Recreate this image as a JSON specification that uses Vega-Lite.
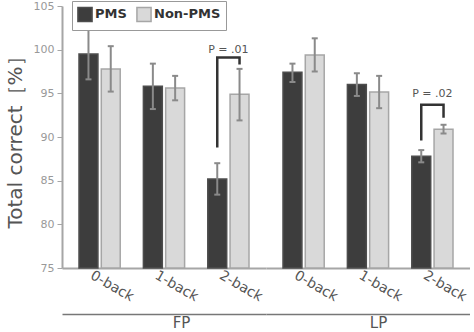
{
  "$schema": "https://vega.github.io/schema/vega-lite/v6.json",
  "padding": {"left": 5, "top": 0, "right": 0, "bottom": 0},
  "spacing": 0,
  "config": {"view": {"stroke": null}, "font": "DejaVu Sans"},
  "datasets": {
    "bars": [
      {"cond": "FP", "load": "0-back", "series": "PMS", "mean": 99.5, "lo": 96.6, "hi": 102.3},
      {"cond": "FP", "load": "0-back", "series": "Non-PMS", "mean": 97.8, "lo": 95.2, "hi": 100.4},
      {"cond": "FP", "load": "1-back", "series": "PMS", "mean": 95.8, "lo": 93.2, "hi": 98.4},
      {"cond": "FP", "load": "1-back", "series": "Non-PMS", "mean": 95.6, "lo": 94.2, "hi": 97.0},
      {"cond": "FP", "load": "2-back", "series": "PMS", "mean": 85.2, "lo": 83.4, "hi": 87.0},
      {"cond": "FP", "load": "2-back", "series": "Non-PMS", "mean": 94.9, "lo": 91.9, "hi": 97.8},
      {"cond": "LP", "load": "0-back", "series": "PMS", "mean": 97.4, "lo": 96.3, "hi": 98.4},
      {"cond": "LP", "load": "0-back", "series": "Non-PMS", "mean": 99.4, "lo": 97.5, "hi": 101.3},
      {"cond": "LP", "load": "1-back", "series": "PMS", "mean": 96.0, "lo": 94.7, "hi": 97.3},
      {"cond": "LP", "load": "1-back", "series": "Non-PMS", "mean": 95.15, "lo": 93.3, "hi": 97.0},
      {"cond": "LP", "load": "2-back", "series": "PMS", "mean": 87.8, "lo": 87.1, "hi": 88.5},
      {"cond": "LP", "load": "2-back", "series": "Non-PMS", "mean": 90.9, "lo": 90.4, "hi": 91.4}
    ],
    "brackets": [
      {"cond": "FP", "load": "2-back", "series": "PMS", "y": 88.8, "seq": 1},
      {"cond": "FP", "load": "2-back", "series": "PMS", "y": 99.1, "seq": 2},
      {"cond": "FP", "load": "2-back", "series": "Non-PMS", "y": 99.1, "seq": 3},
      {"cond": "FP", "load": "2-back", "series": "Non-PMS", "y": 98.3, "seq": 4},
      {"cond": "LP", "load": "2-back", "series": "PMS", "y": 89.6, "seq": 1},
      {"cond": "LP", "load": "2-back", "series": "PMS", "y": 93.7, "seq": 2},
      {"cond": "LP", "load": "2-back", "series": "Non-PMS", "y": 93.7, "seq": 3},
      {"cond": "LP", "load": "2-back", "series": "Non-PMS", "y": 92.2, "seq": 4}
    ],
    "plabels": [
      {"cond": "FP", "load": "2-back", "text": "P = .01", "ty": 100.0},
      {"cond": "LP", "load": "2-back", "text": "P = .02", "ty": 94.9}
    ]
  },
  "hconcat": [
    {
      "width": 204, "height": 262,
      "resolve": {"axis": {"x": "independent"}},
      "layer": [
        {
          "data": {"name": "bars"},
          "transform": [{"filter": "datum.cond === 'FP'"}],
          "mark": {"type": "bar", "strokeWidth": 1.5},
          "encoding": {
            "x": {"field": "load", "type": "nominal", "sort": null,
              "scale": {"domain": ["0-back", "1-back", "2-back"], "paddingInner": 0.36, "paddingOuter": 0.264},
              "axis": {"orient": "bottom", "title": null, "domainColor": "#a6a6a6", "domainWidth": 2, "ticks": false, "labelAngle": 30, "labelAlign": "left", "labelBaseline": "middle", "labelFontSize": 14, "labelColor": "#555", "labelPadding": 6, "labelOffset": -8}},
            "xOffset": {"field": "series", "scale": {"domain": ["PMS", "Non-PMS"], "paddingInner": 0.15}},
            "y": {"field": "mean", "type": "quantitative",
              "scale": {"domain": [75, 105], "zero": false, "nice": false},
              "axis": {"title": "Total correct［%］", "titleFontSize": 20, "titleFontWeight": "normal", "titleColor": "#555", "titlePadding": 8, "values": [75, 80, 85, 90, 95, 100, 105], "labelFontSize": 11, "labelColor": "#999", "domainColor": "#a6a6a6", "domainWidth": 2, "tickColor": "#a6a6a6", "tickSize": 5, "labelPadding": 3, "grid": false}},
            "y2": {"datum": 75},
            "color": {"field": "series", "type": "nominal", "scale": {"domain": ["PMS", "Non-PMS"], "range": ["#3d3d3d", "#d9d9d9"]},
              "legend": {"orient": "none", "legendX": 10, "legendY": -5, "direction": "horizontal", "title": null, "labelFontSize": 13, "labelFontWeight": "bold", "labelColor": "#333", "symbolType": "square", "symbolSize": 200, "symbolStrokeColor": "#444", "symbolStrokeWidth": 1.5, "fillColor": "white", "strokeColor": "#999", "padding": 5, "columnPadding": 6, "labelOffset": 2}},
            "stroke": {"field": "series", "type": "nominal", "scale": {"domain": ["PMS", "Non-PMS"], "range": ["#4d4d4d", "#a6a6a6"]}, "legend": null}
          }
        },
        {
          "data": {"name": "bars"},
          "transform": [{"filter": "datum.cond === 'FP'"}],
          "mark": {"type": "rule", "color": "#8a8a8a", "strokeWidth": 2},
          "encoding": {
            "x": {"field": "load", "type": "nominal", "sort": null,
              "axis": {"orient": "bottom", "title": "FP", "titleX": 119, "domain": true, "domainColor": "#777", "domainWidth": 1.5, "ticks": false, "labels": false, "offset": 46, "titleFontSize": 15, "titleFontWeight": "normal", "titleColor": "#555", "titlePadding": 1}},
            "xOffset": {"field": "series"},
            "y": {"field": "lo", "type": "quantitative"},
            "y2": {"field": "hi"}
          }
        },
        {
          "data": {"name": "bars"},
          "transform": [{"filter": "datum.cond === 'FP'"}],
          "mark": {"type": "tick", "orient": "horizontal", "size": 6, "thickness": 2, "color": "#8a8a8a", "opacity": 1},
          "encoding": {
            "x": {"field": "load", "type": "nominal", "sort": null, "axis": null},
            "xOffset": {"field": "series"},
            "y": {"field": "lo", "type": "quantitative"}
          }
        },
        {
          "data": {"name": "bars"},
          "transform": [{"filter": "datum.cond === 'FP'"}],
          "mark": {"type": "tick", "orient": "horizontal", "size": 6, "thickness": 2, "color": "#8a8a8a", "opacity": 1},
          "encoding": {
            "x": {"field": "load", "type": "nominal", "sort": null, "axis": null},
            "xOffset": {"field": "series"},
            "y": {"field": "hi", "type": "quantitative"}
          }
        },
        {
          "data": {"name": "brackets"},
          "transform": [{"filter": "datum.cond === 'FP'"}],
          "mark": {"type": "line", "color": "#333", "strokeWidth": 2.5, "strokeJoin": "miter"},
          "encoding": {
            "x": {"field": "load", "type": "nominal", "sort": null, "axis": null},
            "xOffset": {"field": "series"},
            "y": {"field": "y", "type": "quantitative"},
            "order": {"field": "seq"}
          }
        },
        {
          "data": {"name": "plabels"},
          "transform": [{"filter": "datum.cond === 'FP'"}],
          "mark": {"type": "text", "fontSize": 11, "color": "#555"},
          "encoding": {
            "x": {"field": "load", "type": "nominal", "sort": null, "axis": null},
            "y": {"field": "ty", "type": "quantitative"},
            "text": {"field": "text"}
          }
        }
      ]
    },
    {
      "width": 204, "height": 262,
      "resolve": {"axis": {"x": "independent"}},
      "layer": [
        {
          "data": {"name": "bars"},
          "transform": [{"filter": "datum.cond === 'LP'"}],
          "mark": {"type": "bar", "strokeWidth": 1.5},
          "encoding": {
            "x": {"field": "load", "type": "nominal", "sort": null,
              "scale": {"domain": ["0-back", "1-back", "2-back"], "paddingInner": 0.36, "paddingOuter": 0.264},
              "axis": {"orient": "bottom", "title": null, "domainColor": "#a6a6a6", "domainWidth": 2, "ticks": false, "labelAngle": 30, "labelAlign": "left", "labelBaseline": "middle", "labelFontSize": 14, "labelColor": "#555", "labelPadding": 6, "labelOffset": -8}},
            "xOffset": {"field": "series", "scale": {"domain": ["PMS", "Non-PMS"], "paddingInner": 0.15}},
            "y": {"field": "mean", "type": "quantitative", "scale": {"domain": [75, 105], "zero": false, "nice": false}, "axis": null},
            "y2": {"datum": 75},
            "color": {"field": "series", "type": "nominal", "scale": {"domain": ["PMS", "Non-PMS"], "range": ["#3d3d3d", "#d9d9d9"]}, "legend": null},
            "stroke": {"field": "series", "type": "nominal", "scale": {"domain": ["PMS", "Non-PMS"], "range": ["#4d4d4d", "#a6a6a6"]}, "legend": null}
          }
        },
        {
          "data": {"name": "bars"},
          "transform": [{"filter": "datum.cond === 'LP'"}],
          "mark": {"type": "rule", "color": "#8a8a8a", "strokeWidth": 2},
          "encoding": {
            "x": {"field": "load", "type": "nominal", "sort": null,
              "axis": {"orient": "bottom", "title": "LP", "titleX": 112, "domain": true, "domainColor": "#777", "domainWidth": 1.5, "ticks": false, "labels": false, "offset": 46, "titleFontSize": 15, "titleFontWeight": "normal", "titleColor": "#555", "titlePadding": 1}},
            "xOffset": {"field": "series"},
            "y": {"field": "lo", "type": "quantitative", "axis": null},
            "y2": {"field": "hi"}
          }
        },
        {
          "data": {"name": "bars"},
          "transform": [{"filter": "datum.cond === 'LP'"}],
          "mark": {"type": "tick", "orient": "horizontal", "size": 6, "thickness": 2, "color": "#8a8a8a", "opacity": 1},
          "encoding": {
            "x": {"field": "load", "type": "nominal", "sort": null, "axis": null},
            "xOffset": {"field": "series"},
            "y": {"field": "lo", "type": "quantitative", "axis": null}
          }
        },
        {
          "data": {"name": "bars"},
          "transform": [{"filter": "datum.cond === 'LP'"}],
          "mark": {"type": "tick", "orient": "horizontal", "size": 6, "thickness": 2, "color": "#8a8a8a", "opacity": 1},
          "encoding": {
            "x": {"field": "load", "type": "nominal", "sort": null, "axis": null},
            "xOffset": {"field": "series"},
            "y": {"field": "hi", "type": "quantitative", "axis": null}
          }
        },
        {
          "data": {"name": "brackets"},
          "transform": [{"filter": "datum.cond === 'LP'"}],
          "mark": {"type": "line", "color": "#333", "strokeWidth": 2.5, "strokeJoin": "miter"},
          "encoding": {
            "x": {"field": "load", "type": "nominal", "sort": null, "axis": null},
            "xOffset": {"field": "series"},
            "y": {"field": "y", "type": "quantitative", "axis": null},
            "order": {"field": "seq"}
          }
        },
        {
          "data": {"name": "plabels"},
          "transform": [{"filter": "datum.cond === 'LP'"}],
          "mark": {"type": "text", "fontSize": 11, "color": "#555"},
          "encoding": {
            "x": {"field": "load", "type": "nominal", "sort": null, "axis": null},
            "y": {"field": "ty", "type": "quantitative", "axis": null},
            "text": {"field": "text"}
          }
        }
      ]
    }
  ]
}
